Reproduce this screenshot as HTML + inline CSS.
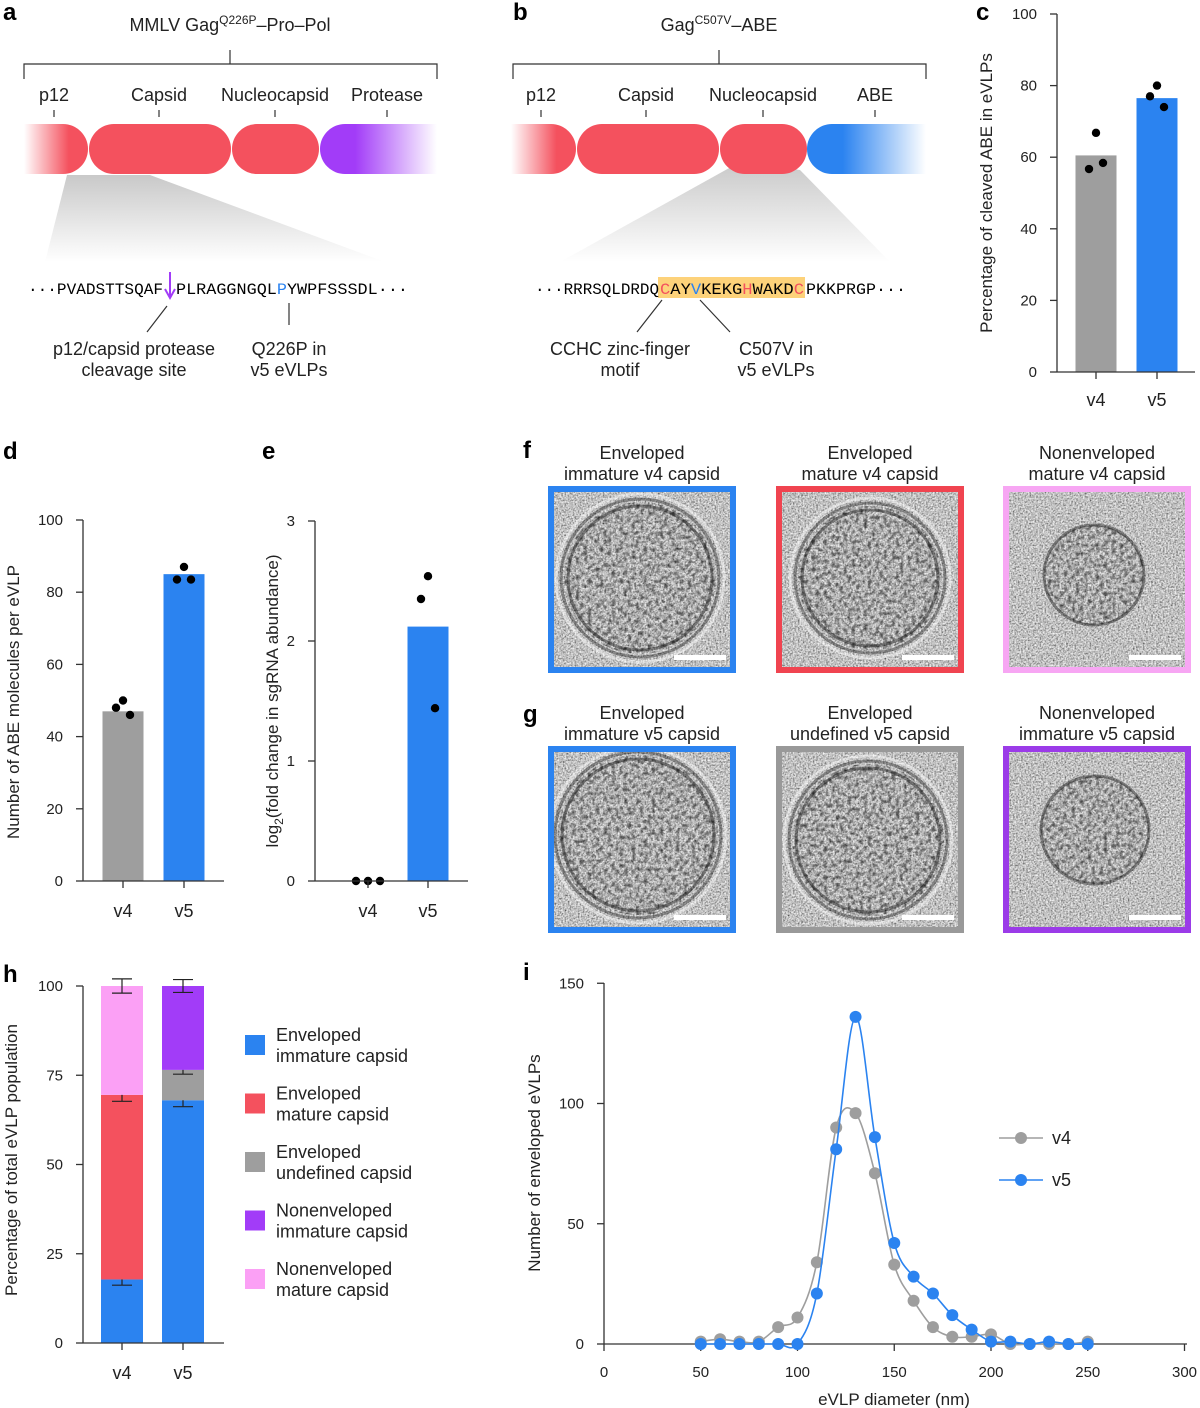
<!DOCTYPE html>
<html><head><meta charset="utf-8"><style>
html,body{margin:0;padding:0;background:#fff}
svg{display:block;font-family:"Liberation Sans",sans-serif}
.mono{font-family:"Liberation Mono",monospace}
.pl{font-weight:bold;font-size:24px}
.lab{font-size:18px;fill:#222}
.tk{font-size:15px;fill:#222}
.ttl{font-size:17px;fill:#222}
</style></head><body>
<svg id="fig" width="1200" height="1408" viewBox="0 0 1200 1408" xmlns="http://www.w3.org/2000/svg">
<defs>
<linearGradient id="gP12" x1="0" x2="1"><stop offset="0" stop-color="#f4515e" stop-opacity="0"/><stop offset="0.7" stop-color="#f4515e" stop-opacity="1"/></linearGradient>
<linearGradient id="gProt" x1="0" x2="1"><stop offset="0.3" stop-color="#a23cf8"/><stop offset="1" stop-color="#a23cf8" stop-opacity="0"/></linearGradient>
<linearGradient id="gAbe" x1="0" x2="1"><stop offset="0.3" stop-color="#2b83f0"/><stop offset="1" stop-color="#2b83f0" stop-opacity="0"/></linearGradient>
<linearGradient id="gTri" x1="0" y1="0" x2="0" y2="1"><stop offset="0" stop-color="#bbb"/><stop offset="1" stop-color="#fff"/></linearGradient>
<filter id="nz" x="0" y="0" width="100%" height="100%"><feTurbulence type="fractalNoise" baseFrequency="0.6" numOctaves="2" seed="4"/><feColorMatrix type="matrix" values="1.3 0 0 0 -0.12 1.3 0 0 0 -0.12 1.3 0 0 0 -0.12 0 0 0 0 1"/></filter>
<filter id="nz2" x="0" y="0" width="100%" height="100%"><feTurbulence type="fractalNoise" baseFrequency="0.25" numOctaves="1" seed="9"/><feColorMatrix type="matrix" values="0 0 0 0 0 0 0 0 0 0 0 0 0 0 0 -3 0 0 0 1.7"/></filter>
</defs>

<!-- Panel a -->
<g>
<text class="pl" x="3" y="20">a</text>
<text class="lab" x="230" y="31" text-anchor="middle">MMLV Gag<tspan font-size="12" dy="-7">Q226P</tspan><tspan dy="7">–Pro–Pol</tspan></text>
<path d="M230 50V64M24 79V64H437V79" stroke="#333" fill="none" stroke-width="1.2"/>
<g class="lab" text-anchor="middle">
<text x="54" y="101">p12</text><text x="159" y="101">Capsid</text><text x="275" y="101">Nucleocapsid</text><text x="387" y="101">Protease</text></g>
<path d="M54 110v7M159 110v7M275 110v7M387 110v7" stroke="#333" stroke-width="1.2"/>
<path d="M45 262L67 175L150 175L385 262Z" fill="url(#gTri)" opacity="0.8"/>
<path d="M24 124H63a25 25 0 0 1 0 50H24Z" fill="url(#gP12)"/>
<rect x="89" y="124" width="142" height="50" rx="25" fill="#f4515e"/>
<rect x="232" y="124" width="87" height="50" rx="25" fill="#f4515e"/>
<path d="M345 124H437V174H345a25 25 0 0 1 0-50Z" fill="url(#gProt)"/>
<text class="mono" x="28" y="294" font-size="16" textLength="135" lengthAdjust="spacingAndGlyphs">···PVADSTTSQAF</text>
<text class="mono" x="176" y="294" font-size="16" textLength="232" lengthAdjust="spacingAndGlyphs">PLRAGGNGQL<tspan fill="#2b83f0">P</tspan>YWPFSSSDL···</text>
<path d="M170 272V296M165 289L170 298L175 289" stroke="#a23cf8" stroke-width="2" fill="none"/>
<path d="M167 306L147 332M289 303V325" stroke="#333" stroke-width="1.2"/>
<g class="lab" text-anchor="middle">
<text x="134" y="355">p12/capsid protease</text><text x="134" y="376">cleavage site</text>
<text x="289" y="355">Q226P in</text><text x="289" y="376">v5 eVLPs</text></g>
</g>

<!-- Panel b -->
<g>
<text class="pl" x="513" y="20">b</text>
<text class="lab" x="719" y="31" text-anchor="middle">Gag<tspan font-size="12" dy="-7">C507V</tspan><tspan dy="7">–ABE</tspan></text>
<path d="M719 50V64M513 79V64H926V79" stroke="#333" fill="none" stroke-width="1.2"/>
<g class="lab" text-anchor="middle">
<text x="541" y="101">p12</text><text x="646" y="101">Capsid</text><text x="763" y="101">Nucleocapsid</text><text x="875" y="101">ABE</text></g>
<path d="M541 110v7M646 110v7M763 110v7M875 110v7" stroke="#333" stroke-width="1.2"/>
<path d="M560 262L740 162L800 170L890 262Z" fill="url(#gTri)" opacity="0.8"/>
<path d="M511 124H551a25 25 0 0 1 0 50H511Z" fill="url(#gP12)"/>
<rect x="577" y="124" width="142" height="50" rx="25" fill="#f4515e"/>
<rect x="720" y="124" width="87" height="50" rx="25" fill="#f4515e"/>
<path d="M832 124H926V174H832a25 25 0 0 1 0-50Z" fill="url(#gAbe)"/>
<rect x="658" y="277" width="147" height="21" fill="#fdd27a"/>
<text class="mono" x="535" y="294" font-size="16" textLength="124" lengthAdjust="spacingAndGlyphs">···RRRSQLDRDQ</text>
<text class="mono" x="660" y="294" font-size="16" textLength="144" lengthAdjust="spacingAndGlyphs"><tspan fill="#f4515e">C</tspan>AY<tspan fill="#2b83f0">V</tspan>KEKG<tspan fill="#f4515e">H</tspan>WAKD<tspan fill="#f4515e">C</tspan></text>
<text class="mono" x="806" y="294" font-size="16" textLength="100" lengthAdjust="spacingAndGlyphs">PKKPRGP···</text>
<path d="M662 300L637 332M700 300L730 332" stroke="#333" stroke-width="1.2"/>
<g class="lab" text-anchor="middle">
<text x="620" y="355">CCHC zinc-finger</text><text x="620" y="376">motif</text>
<text x="776" y="355">C507V in</text><text x="776" y="376">v5 eVLPs</text></g>
</g>

<text class="pl" x="976" y="20">c</text>
<text class="pl" x="3" y="459">d</text>
<text class="pl" x="262" y="459">e</text>
<text class="pl" x="523" y="458">f</text>
<text class="pl" x="523" y="722">g</text>
<text class="pl" x="3" y="982">h</text>
<text class="pl" x="523" y="980">i</text>
<g id="charts"></g>
</svg>
<script>
// ---------- DATA ----------
const groups = ["v4", "v5"];
const cBars = [60.5, 76.5];
const cDotsV4 = [66.8, 56.7, 58.4];
const cDotsV5 = [80, 77, 74];
const cTicks = [0, 20, 40, 60, 80, 100];
const dBars = [47, 85];
const dDotsV4 = [50, 48, 46];
const dDotsV5 = [87, 83.5, 83.5];
const dTicks = [0, 20, 40, 60, 80, 100];
const eBars = [0, 2.12];
const eDotsV4 = [0, 0, 0];
const eDotsV5 = [2.54, 2.35, 1.44];
const eTicks = [0, 1, 2, 3];
const hCategories = ["Enveloped immature capsid","Enveloped mature capsid","Enveloped undefined capsid","Nonenveloped immature capsid","Nonenveloped mature capsid"];
const hV4 = [17.8, 51.7, 0, 0, 30.5];
const hV5 = [68, 0, 8.5, 23.5, 0];
const hErrV4 = [1.6, 1.8, 0, 0, 2];
const hErrV5 = [1.8, 0, 1.2, 1.8, 0];
const hTicks = [0, 25, 50, 75, 100];
const iDiam = [50,60,70,80,90,100,110,120,130,140,150,160,170,180,190,200,210,220,230,240,250];
const iV4 = [1,2,1,1,7,11,34,90,96,71,33,18,7,3,3,4,0,0,0,0,1];
const iV5 = [0,0,0,0,0,0,21,81,136,86,42,28,21,12,6,1,1,0,1,0,0];
const iXTicks = [0,50,100,150,200,250,300];
const iYTicks = [0,50,100,150];

const NS = "http://www.w3.org/2000/svg";
const root = document.getElementById("charts");
function mk(tag, attrs, parent) {
  const e = document.createElementNS(NS, tag);
  for (const k in attrs) e.setAttribute(k, attrs[k]);
  (parent || root).appendChild(e);
  return e;
}
const catColors = ["#2b83f0", "#f4515e", "#9e9e9e", "#a23cf8", "#fba0f5"];

function axisY(x0, yScale, ticks, yTop, yBot, name) {
  const ax = mk("line", {x1: x0, x2: x0, y1: yTop, y2: yBot, stroke: "#333", "stroke-width": 1.3});
  
  
  ticks.forEach(t => {
    const y = yScale(t);
    mk("line", {x1: x0 - 7, x2: x0, y1: y, y2: y, stroke: "#333", "stroke-width": 1.3});
    const tx = mk("text", {x: x0 - 20, y: y + 5, "text-anchor": "end", class: "tk"});
    tx.textContent = t;
    
    
  });
}
function axisX(x0, x1, y0, centers, labelY, name) {
  const ax = mk("line", {x1: x0, x2: x1, y1: y0, y2: y0, stroke: "#333", "stroke-width": 1.3});
  
  
  centers.forEach((c, i) => {
    mk("line", {x1: c, x2: c, y1: y0, y2: y0 + 7, stroke: "#333", "stroke-width": 1.3});
    const tx = mk("text", {x: c, y: labelY, "text-anchor": "middle", class: "lab"});
    tx.textContent = groups[i];
    
    
  });
}
function yTitle(x, y, txt, name) {
  const t = mk("text", {x: x, y: y, "text-anchor": "middle", class: "ttl", transform: "rotate(-90 " + x + " " + y + ")"});
  t.textContent = txt;
  
  
  return t;
}
function barDots(name, bars, dotsA, dotsB, centers, yScale, w) {
  bars.forEach((v, i) => {
    const b = mk("rect", {x: centers[i] - w / 2, y: yScale(v), width: w, height: yScale(0) - yScale(v), fill: i ? "#2b83f0" : "#9e9e9e"});
    
    
  });
  [dotsA, dotsB].forEach((ds, i) => {
    const offs = [0, -7, 7];
    ds.forEach((v, j) => {
      const off = ds.length === 3 ? [-12, 0, 12][j] * (name === "panel-e" && i === 0 ? 1 : 0) + (name === "panel-e" && i === 0 ? 0 : [0, -7, 7][j]) : 0;
      const d = mk("circle", {cx: centers[i] + off, cy: yScale(v), r: 4.2, fill: "#000"});
      
      
    });
  });
}

// Panel c
{
  const ys = v => 372 - v * 3.58;
  axisY(1057, ys, cTicks, 14, 372, "panel-c");
  barDots("panel-c", cBars, cDotsV4, cDotsV5, [1096, 1157], ys, 41);
  axisX(1057, 1195, 372, [1096, 1157], 406, "panel-c");
  yTitle(992, 193, "Percentage of cleaved ABE in eVLPs", "panel-c-y-title");
}
// Panel d
{
  const ys = v => 881 - v * 3.61;
  axisY(83, ys, dTicks, 520, 881, "panel-d");
  barDots("panel-d", dBars, dDotsV4, dDotsV5, [123, 184], ys, 41);
  axisX(83, 224, 881, [123, 184], 917, "panel-d");
  yTitle(19, 702, "Number of ABE molecules per eVLP", "panel-d-y-title");
}
// Panel e
{
  const ys = v => 881 - v * 120;
  axisY(315, ys, eTicks, 521, 881, "panel-e");
  barDots("panel-e", eBars, eDotsV4, eDotsV5, [368, 428], ys, 41);
  axisX(315, 468, 881, [368, 428], 917, "panel-e");
  const t = mk("text", {x: 278, y: 701, "text-anchor": "middle", class: "ttl", transform: "rotate(-90 278 701)"});
  t.innerHTML = 'log<tspan font-size="12" dy="5">2</tspan><tspan dy="-5">(fold change in sgRNA abundance)</tspan>';
  
  
}
// Panel h
{
  const ys = v => 1343 - v * 3.57;
  const centers = [122, 183];
  [hV4, hV5].forEach((series, gi) => {
    let acc = 0;
    const errs = gi ? hErrV5 : hErrV4;
    series.forEach((v, ci) => {
      if (v <= 0) return;
      const r = mk("rect", {x: centers[gi] - 21, y: ys(acc + v), width: 42, height: ys(acc) - ys(acc + v), fill: catColors[ci]});
      
      
      acc += v;
      const e = errs[ci];
      const cx = centers[gi];
      const eb = mk("path", {d: `M${cx} ${ys(acc + e)}V${ys(acc - e)}M${cx - 10} ${ys(acc + e)}H${cx + 10}M${cx - 10} ${ys(acc - e)}H${cx + 10}`, stroke: "#222", "stroke-width": 1.2, fill: "none"});
      
      
    });
  });
  axisY(83, ys, hTicks, 986, 1343, "panel-h");
  axisX(83, 224, 1343, centers, 1379, "panel-h");
  yTitle(17, 1160, "Percentage of total eVLP population", "panel-h-y-title");
  hCategories.forEach((c, i) => {
    const y0 = 1035 + i * 58.5;
    const sw = mk("rect", {x: 245, y: y0, width: 20, height: 20, fill: catColors[i]});
    
    
    const words = c.split(" ");
    const t1 = mk("text", {x: 276, y: y0 + 6, class: "lab"}); t1.textContent = words[0];
    
    
    const t2 = mk("text", {x: 276, y: y0 + 27, class: "lab"}); t2.textContent = words.slice(1).join(" ");
  });
}
// Panel i
{
  const xs = v => 604 + v * 1.935;
  const ys = v => 1344 - v * 2.405;
  const ya = mk("line", {x1: 604, x2: 604, y1: 983, y2: 1344, stroke: "#333", "stroke-width": 1.3});
  
  
  const xa = mk("line", {x1: 604, x2: 1187, y1: 1344, y2: 1344, stroke: "#333", "stroke-width": 1.3});
  
  
  iYTicks.forEach(t => {
    mk("line", {x1: 597, x2: 604, y1: ys(t), y2: ys(t), stroke: "#333", "stroke-width": 1.3});
    const tx = mk("text", {x: 584, y: ys(t) + 5, "text-anchor": "end", class: "tk"}); tx.textContent = t;
    
    
  });
  iXTicks.forEach(t => {
    mk("line", {x1: xs(t), x2: xs(t), y1: 1344, y2: 1351, stroke: "#333", "stroke-width": 1.3});
    const tx = mk("text", {x: xs(t), y: 1377, "text-anchor": "middle", class: "tk"}); tx.textContent = t;
    
    
  });
  const xt = mk("text", {x: 894, y: 1405, "text-anchor": "middle", class: "ttl"}); xt.textContent = "eVLP diameter (nm)";
  
  
  yTitle(540, 1163, "Number of enveloped eVLPs", "panel-i-y-title");
  function smooth(xv, yv) {
    const P = xv.map((x, i) => [xs(x), ys(yv[i])]);
    let d = `M${P[0][0]} ${P[0][1]}`;
    for (let i = 0; i < P.length - 1; i++) {
      const p0 = P[Math.max(0, i - 1)], p1 = P[i], p2 = P[i + 1], p3 = P[Math.min(P.length - 1, i + 2)];
      const c1 = [p1[0] + (p2[0] - p0[0]) / 6, p1[1] + (p2[1] - p0[1]) / 6];
      const c2 = [p2[0] - (p3[0] - p1[0]) / 6, p2[1] - (p3[1] - p1[1]) / 6];
      d += `C${c1[0]} ${c1[1]} ${c2[0]} ${c2[1]} ${p2[0]} ${p2[1]}`;
    }
    return d;
  }
  [[iV4, "#9e9e9e", "v4"], [iV5, "#2b83f0", "v5"]].forEach(([ser, col, nm]) => {
    const ln = mk("path", {d: smooth(iDiam, ser), stroke: col, "stroke-width": 1.6, fill: "none"});
    
    
    ser.forEach((v, i) => {
      const c = mk("circle", {cx: xs(iDiam[i]), cy: ys(v), r: 6, fill: col});
      
      
    });
  });
  [["v4", "#9e9e9e", 1138], ["v5", "#2b83f0", 1180]].forEach(([nm, col, y]) => {
    const g = mk("g", {});
    
    
    mk("line", {x1: 999, x2: 1043, y1: y, y2: y, stroke: col, "stroke-width": 1.6}, g);
    mk("circle", {cx: 1021, cy: y, r: 6, fill: col}, g);
    const t = mk("text", {x: 1052, y: y + 6, class: "lab"}, g); t.textContent = nm;
  });
}
// Panels f, g micrographs
{
  const micro = [
    [548, 486, "#2b83f0", 640, 578, 84, true, "Enveloped", "immature v4 capsid"],
    [776, 486, "#f04450", 870, 578, 80, true, "Enveloped", "mature v4 capsid"],
    [1003, 486, "#f7a6f3", 1094, 575, 50, false, "Nonenveloped", "mature v4 capsid"],
    [548, 746, "#2b83f0", 638, 835, 88, true, "Enveloped", "immature v5 capsid"],
    [776, 746, "#999999", 868, 840, 84, true, "Enveloped", "undefined v5 capsid"],
    [1003, 746, "#9b3be8", 1095, 830, 54, false, "Nonenveloped", "immature v5 capsid"]
  ];
  micro.forEach((m, i) => {
    const [x, y, col, cx, cy, r, env, l1, l2] = m;
    const g = mk("g", {});
    
    
    mk("rect", {x: x, y: y, width: 188, height: 187, fill: "#8c8c8c"}, g);
    mk("rect", {x: x, y: y, width: 188, height: 187, filter: "url(#nz)"}, g);
    const cid = "cp" + i;
    const cp = mk("clipPath", {id: cid}, g);
    mk("circle", {cx: cx, cy: cy, r: env ? r - 8 : r}, cp);
    mk("rect", {x: x, y: y, width: 188, height: 187, filter: "url(#nz2)", "clip-path": `url(#${cid})`, opacity: 0.55}, g);
    if (env) {
      mk("circle", {cx: cx, cy: cy, r: r, fill: "none", stroke: "rgba(255,255,255,0.45)", "stroke-width": 3}, g);
      mk("circle", {cx: cx, cy: cy, r: r - 5, fill: "none", stroke: "rgba(0,0,0,0.35)", "stroke-width": 3}, g);
    }
    mk("circle", {cx: cx, cy: cy, r: env ? r - 12 : r, fill: "none", stroke: "rgba(0,0,0,0.4)", "stroke-width": 3}, g);
    mk("rect", {x: x + 3, y: y + 3, width: 182, height: 181, fill: "none", stroke: col, "stroke-width": 6}, g);
    const sb = mk("rect", {x: x + 126, y: y + 169, width: 52, height: 5, fill: "#fff"}, g);
    
    
    const t1 = mk("text", {x: x + 94, y: y - 27, "text-anchor": "middle", class: "lab"}, g); t1.textContent = l1;
    const t2 = mk("text", {x: x + 94, y: y - 6, "text-anchor": "middle", class: "lab"}, g); t2.textContent = l2;
  });
}
</script>
</body></html>
